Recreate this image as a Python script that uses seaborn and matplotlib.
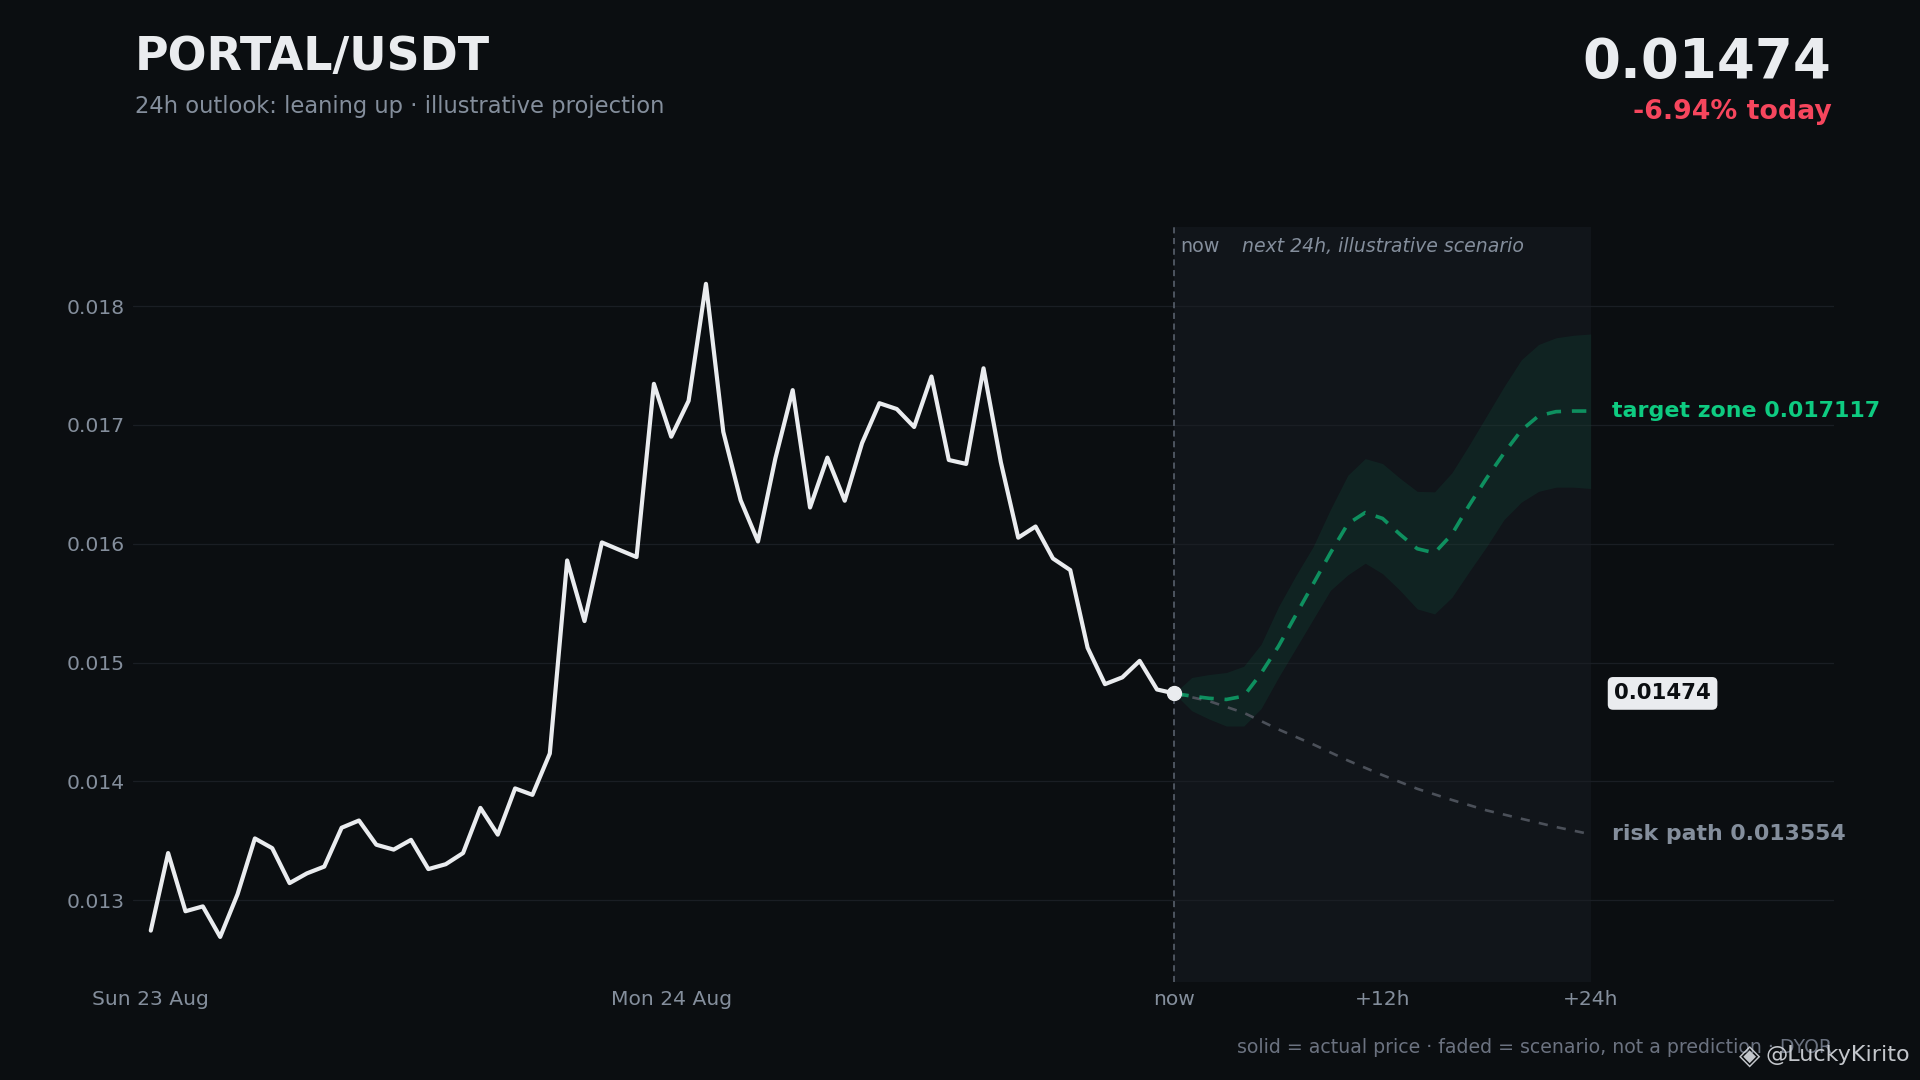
import numpy as np
import pandas as pd
import matplotlib.pyplot as plt
import seaborn as sns

# hourly closes, oldest first, last one = now
hist_hours = list(range(-59, 1))
hist_price = [0.012743, 0.013396, 0.012906, 0.012947, 0.012690, 0.013049, 0.013519, 0.013437, 0.013143, 0.013225,
              0.013282, 0.013609, 0.013670, 0.013466, 0.013425, 0.013507, 0.013261, 0.013302, 0.013396, 0.013776,
              0.013551, 0.013940, 0.013886, 0.014234, 0.015859, 0.015349, 0.016011, 0.015949, 0.015888, 0.017346,
              0.016901, 0.017203, 0.018188, 0.016942, 0.016366, 0.016019, 0.016717, 0.017293, 0.016305, 0.016725,
              0.016362, 0.016848, 0.017183, 0.017134, 0.016983, 0.017408, 0.016705, 0.016672, 0.017477, 0.016685,
              0.016051, 0.016145, 0.015876, 0.015778, 0.015124, 0.014818, 0.014875, 0.015014, 0.014773, 0.014740]

# scenario for the next 24h
fc_hours = list(range(0, 25))
fc_mid = [0.014740, 0.014717, 0.014699, 0.014689, 0.014717, 0.014909, 0.015136, 0.015399, 0.015661, 0.015923,
          0.016168, 0.016262, 0.016213, 0.016080, 0.015958, 0.015923, 0.016080, 0.016325, 0.016552, 0.016762,
          0.016955, 0.017077, 0.017112, 0.017117, 0.017117]
fc_upper = [0.014741, 0.014874, 0.014899, 0.014916, 0.014969, 0.015154, 0.015469, 0.015731, 0.015976, 0.016290,
            0.016577, 0.016717, 0.016675, 0.016552, 0.016441, 0.016437, 0.016598, 0.016832, 0.017077, 0.017322,
            0.017549, 0.017678, 0.017734, 0.017755, 0.017766]
fc_lower = [0.014739, 0.014594, 0.014524, 0.014465, 0.014465, 0.014612, 0.014874, 0.015119, 0.015364, 0.015608,
            0.015738, 0.015836, 0.015748, 0.015608, 0.015451, 0.015409, 0.015549, 0.015766, 0.015976, 0.016203,
            0.016350, 0.016441, 0.016476, 0.016476, 0.016465]

risk_hours = [0, 2, 4, 6, 8, 10, 12, 14, 16, 18, 20, 22, 24]
risk_price = [0.014740, 0.014675, 0.014577, 0.014437, 0.014311, 0.014175, 0.014052, 0.013937, 0.013843,
              0.013755, 0.013685, 0.013615, 0.013554]

tick_pos = [-59, -29, 0, 12, 24]
tick_labels = ["Sun 23 Aug", "Mon 24 Aug", "now", "+12h", "+24h"]
y_ticks = [0.013, 0.014, 0.015, 0.016, 0.017, 0.018]

last_price = 0.01474
target = 0.017117
risk_end = 0.013554

BG = "#0b0e11"
GREEN = "#0ecb81"
RED = "#f6465d"
GREY = "#848e9c"
WHITE = "#eaecef"

sns.set_theme(style="dark")
plt.rcParams["font.family"] = ["DejaVu Sans"]

hist = pd.DataFrame({"hour": hist_hours, "price": hist_price})
fc = pd.DataFrame({"hour": fc_hours, "mid": fc_mid, "lo": fc_lower, "hi": fc_upper})
risk = pd.DataFrame({"hour": risk_hours, "price": risk_price})

fig = plt.figure(figsize=(19.2, 10.8), dpi=100, facecolor=BG)
ax = fig.add_axes([0.0695, 0.0907, 0.8855, 0.6995])
ax.set_facecolor(BG)

ax.axvspan(0, 24, color="#11151a", zorder=0, lw=0)
for y in y_ticks:
    ax.axhline(y, color="#1a1e24", lw=0.9, zorder=0.5)
ax.axvline(0, color="#5e6673", lw=1.1, ls=(0, (4, 3)), zorder=1)

ax.fill_between(fc["hour"], fc["lo"], fc["hi"], color=GREEN, alpha=0.08, lw=0, zorder=1)
sns.lineplot(data=risk, x="hour", y="price", ax=ax, color="#4b5059", lw=1.9,
             linestyle=(0, (3.5, 3.5)), zorder=2)
sns.lineplot(data=fc, x="hour", y="mid", ax=ax, color=GREEN, alpha=0.65, lw=2.6,
             linestyle=(0, (4, 3)), zorder=3)
sns.lineplot(data=hist, x="hour", y="price", ax=ax, color=WHITE, lw=3.0, zorder=4)
ax.plot([0], [last_price], "o", color=WHITE, ms=10, zorder=5)

ax.set_xlim(-60, 38)
ax.set_ylim(0.01231, 0.01867)
ax.set_xticks(tick_pos)
ax.set_xticklabels(tick_labels)
ax.set_yticks(y_ticks)
ax.set_yticklabels([f"{v:.3f}" for v in y_ticks])
ax.tick_params(axis="both", colors=GREY, labelsize=14.6, length=0)
ax.tick_params(axis="x", pad=6)
ax.tick_params(axis="y", pad=6.5)
ax.set_xlabel("")
ax.set_ylabel("")
ax.grid(False)
for s in ax.spines.values():
    s.set_visible(False)

# annotations inside the plot
ax.text(0.35, 0.973, "now", transform=ax.get_xaxis_transform(), color=GREY,
        fontsize=13.8, va="center", ha="left")
ax.text(3.9, 0.973, "next 24h, illustrative scenario", transform=ax.get_xaxis_transform(),
        color=GREY, fontsize=13.6, style="italic", va="center", ha="left")
ax.text(25.2, target, f"target zone {target}", color=GREEN, fontsize=15.9,
        fontweight="bold", va="center", ha="left")
ax.text(25.35, last_price, f"{last_price}", color=BG, fontsize=15.3, fontweight="bold",
        va="center", ha="left",
        bbox=dict(boxstyle="round,pad=0.3,rounding_size=0.25", fc=WHITE, ec="none"))
ax.text(25.2, risk_end, f"risk path {risk_end}", color=GREY, fontsize=15.8,
        fontweight="bold", va="center", ha="left")

# header
fig.text(0.0701, 0.947, "PORTAL/USDT", color=WHITE, fontsize=33, fontweight="bold",
         va="center", ha="left")
fig.text(0.0701, 0.901, "24h outlook: leaning up · illustrative projection", color=GREY,
         fontsize=16.3, va="center", ha="left")
fig.text(0.954, 0.942, f"{last_price}", color=WHITE, fontsize=39.3, fontweight="bold",
         va="center", ha="right")
fig.text(0.954, 0.896, "-6.94% today", color=RED, fontsize=19.3, fontweight="bold",
         va="center", ha="right")

# footer
fig.text(0.954, 0.030, "solid = actual price · faded = scenario, not a prediction · DYOR",
         color="#6b7280", fontsize=13.6, va="center", ha="right")
fig.text(0.917, 0.023, "◈", color="#d8dbe0", fontsize=20, va="center", ha="right", alpha=0.9)
fig.text(0.995, 0.023, "@LuckyKirito", color="#d8dbe0", fontsize=16, va="center",
         ha="right", alpha=0.9)

fig.savefig("out.png", dpi=100, facecolor=BG)
